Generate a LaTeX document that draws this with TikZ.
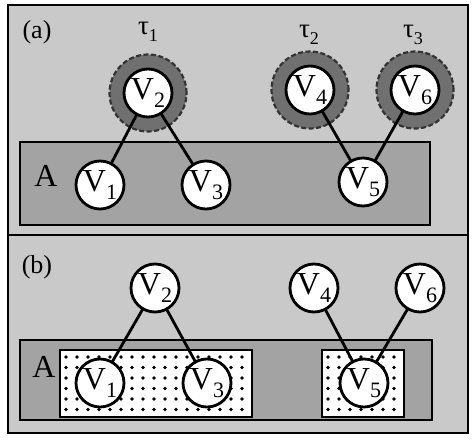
\documentclass[tikz,border=0pt]{standalone}
\usepackage{fontspec}
\setmainfont{Liberation Serif}
\newcommand{\vlab}[1]{V\raisebox{-8.5pt}{\fontsize{22}{22}\selectfont #1}}
\newcommand{\tlab}[1]{τ\raisebox{-6.5pt}{\fontsize{18}{18}\selectfont #1}}
\definecolor{panelgray}{gray}{0.79}
\definecolor{boxgray}{gray}{0.64}
\definecolor{ringgray}{gray}{0.44}
\begin{document}
\begin{tikzpicture}[x=1pt,y=-1pt,
  vnode/.style={circle, draw, line width=2.8pt, fill=white, minimum size=48pt, inner sep=0pt, font=\fontsize{32}{32}\selectfont},
  ringnode/.style={circle, draw=black!80, fill=ringgray, line width=2.2pt, dash pattern=on 5pt off 2.5pt, minimum size=77pt, inner sep=0pt},
  panel/.style={draw, line width=2.8pt, fill=panelgray},
  abox/.style={draw, line width=2.8pt, fill=boxgray},
  dbox/.style={draw, line width=2.8pt, fill=white},
  edge/.style={line width=2.8pt},
  lab/.style={inner sep=0pt, font=\fontsize{26}{26}\selectfont},
  biglab/.style={inner sep=0pt, font=\fontsize{32}{32}\selectfont},
  taulab/.style={inner sep=0pt, font=\fontsize{27}{27}\selectfont}]
\useasboundingbox (0,0) rectangle (474,440);
\fill[white] (0,0) rectangle (474,440);
% panels
\draw[panel] (8,5) rectangle (468,235);
\draw[panel] (8,235) rectangle (468,433);
% panel (a)
\draw[abox] (20,142) rectangle (430,225);
\node[lab] (la) at (37,32) {(a)};
\node[biglab] (Aa) at (46,176) {A};
\node[ringnode] (ra2) at (148,93) {};
\node[ringnode] (ra4) at (310,90) {};
\node[ringnode] (ra6) at (415,90) {};
\node[taulab] (t1) at (148,32) {\tlab{1}};
\node[taulab] (t2) at (309,35) {\tlab{2}};
\node[taulab] (t3) at (413,35) {\tlab{3}};
\coordinate (ca2) at (148,93);
\coordinate (ca1) at (100,185);
\coordinate (ca3) at (206,185);
\coordinate (ca4) at (310,90);
\coordinate (ca5) at (363,182);
\coordinate (ca6) at (415,90);
\draw[edge] (ca2) -- (ca1);
\draw[edge] (ca2) -- (ca3);
\draw[edge] (ca4) -- (ca5);
\draw[edge] (ca6) -- (ca5);
\node[vnode] (a2) at (ca2) {\vlab{2}};
\node[vnode] (a1) at (ca1) {\vlab{1}};
\node[vnode] (a3) at (ca3) {\vlab{3}};
\node[vnode] (a4) at (ca4) {\vlab{4}};
\node[vnode] (a5) at (ca5) {\vlab{5}};
\node[vnode] (a6) at (ca6) {\vlab{6}};
% panel (b)
\draw[abox] (20,340) rectangle (432,420);
\draw[dbox] (60,350) rectangle (252,417);
\draw[dbox] (322,350) rectangle (404,417);
\begin{scope}
\clip (62,352) rectangle (250,415);
\foreach \x in {66,77,...,250} \foreach \y in {357,367.5,...,416} \fill (\x,\y) circle (1.8pt);
\end{scope}
\begin{scope}
\clip (324,352) rectangle (402,415);
\foreach \x in {328,339,...,402} \foreach \y in {357,367.5,...,416} \fill (\x,\y) circle (1.8pt);
\end{scope}
\node[lab] (lb) at (37,267) {(b)};
\node[biglab] (Ab) at (44,367) {A};
\coordinate (cb2) at (155,288);
\coordinate (cb1) at (100,383);
\coordinate (cb3) at (207,383);
\coordinate (cb4) at (314,288);
\coordinate (cb5) at (364,383);
\coordinate (cb6) at (420,288);
\draw[edge] (cb2) -- (cb1);
\draw[edge] (cb2) -- (cb3);
\draw[edge] (cb4) -- (cb5);
\draw[edge] (cb6) -- (cb5);
\node[vnode] (b2) at (cb2) {\vlab{2}};
\node[vnode] (b1) at (cb1) {\vlab{1}};
\node[vnode] (b3) at (cb3) {\vlab{3}};
\node[vnode] (b4) at (cb4) {\vlab{4}};
\node[vnode] (b5) at (cb5) {\vlab{5}};
\node[vnode] (b6) at (cb6) {\vlab{6}};
\end{tikzpicture}
\end{document}
